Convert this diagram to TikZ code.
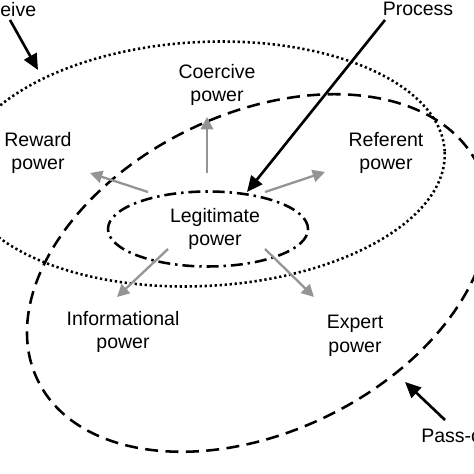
\documentclass[tikz,border=0pt]{standalone}
\usepackage{fontspec}
\setmainfont{Liberation Sans}
\usetikzlibrary{arrows.meta}
\tikzset{
    lbl/.style={align=center, font=\fontsize{11.1}{13.6}\selectfont},
    dotline/.style={line width=1.45pt, dash pattern={on 1.3pt off 1.55pt}},
    dashline/.style={line width=1.45pt, dash pattern={on 7.4pt off 4.2pt}},
    dashdotline/.style={line width=1.45pt, dash pattern={on 6.8pt off 2.8pt on 1.4pt off 2.8pt}},
    blackarrow/.style={line width=1.5pt, -{Triangle[length=9pt, width=8pt]}},
    grayarrow/.style={line width=1.3pt, black!42, -{Triangle[length=7pt, width=7pt]}}
}
\begin{document}
\begin{tikzpicture}
    \useasboundingbox (0,0) rectangle (9.48,9.48);
    \clip (0,0) rectangle (9.48,9.48);
    % the three domains
    \draw[dotline, rotate around={3:(4.06,6.2)}] (4.06,6.2) ellipse (4.84 and 2.44);
    \draw[dashline, rotate around={26:(5.16,4.02)}] (5.16,4.02) ellipse (4.9 and 3.18);
    \draw[dashdotline] (4.16,4.9) ellipse (2.0 and 0.75);
    % the powers
    \node[lbl] (legit) at (4.30,4.90) {Legitimate\\power};
    \node[lbl] (coercive) at (4.34,7.78) {Coercive\\power};
    \node[lbl] (reward) at (0.76,6.42) {Reward\\power};
    \node[lbl] (referent) at (7.72,6.42) {Referent\\power};
    \node[lbl] (info) at (2.46,2.84) {Informational\\power};
    \node[lbl] (expert) at (7.10,2.76) {Expert\\power};
    % cut labels at the edges
    \node[lbl, anchor=west, inner sep=0pt] (receive) at (0,9.28) {eive};
    \node[lbl] (process) at (8.36,9.30) {Process};
    \node[lbl, anchor=west, inner sep=0pt] (passc) at (8.42,0.76) {Pass-c};
    % arrow ends
    \coordinate (receiveA) at (0.20,9.08);
    \coordinate (receiveB) at (0.76,8.08);
    \coordinate (processA) at (7.70,9.08);
    \coordinate (processB) at (4.94,5.64);
    \coordinate (passA) at (8.90,1.08);
    \coordinate (passB) at (8.10,1.84);
    \coordinate (upA) at (4.14,6.02);
    \coordinate (upB) at (4.14,7.14);
    \coordinate (leftA) at (2.96,5.64);
    \coordinate (leftB) at (1.80,6.02);
    \coordinate (rightA) at (5.30,5.64);
    \coordinate (rightB) at (6.50,6.04);
    \coordinate (dlA) at (3.36,4.50);
    \coordinate (dlB) at (2.34,3.54);
    \coordinate (drA) at (5.30,4.50);
    \coordinate (drB) at (6.28,3.54);
    % arrows
    \draw[blackarrow] (receiveA) -- (receiveB);
    \draw[blackarrow] (processA) -- (processB);
    \draw[blackarrow] (passA) -- (passB);
    \draw[grayarrow] (upA) -- (upB);
    \draw[grayarrow] (leftA) -- (leftB);
    \draw[grayarrow] (rightA) -- (rightB);
    \draw[grayarrow] (dlA) -- (dlB);
    \draw[grayarrow] (drA) -- (drB);
\end{tikzpicture}
\end{document}
